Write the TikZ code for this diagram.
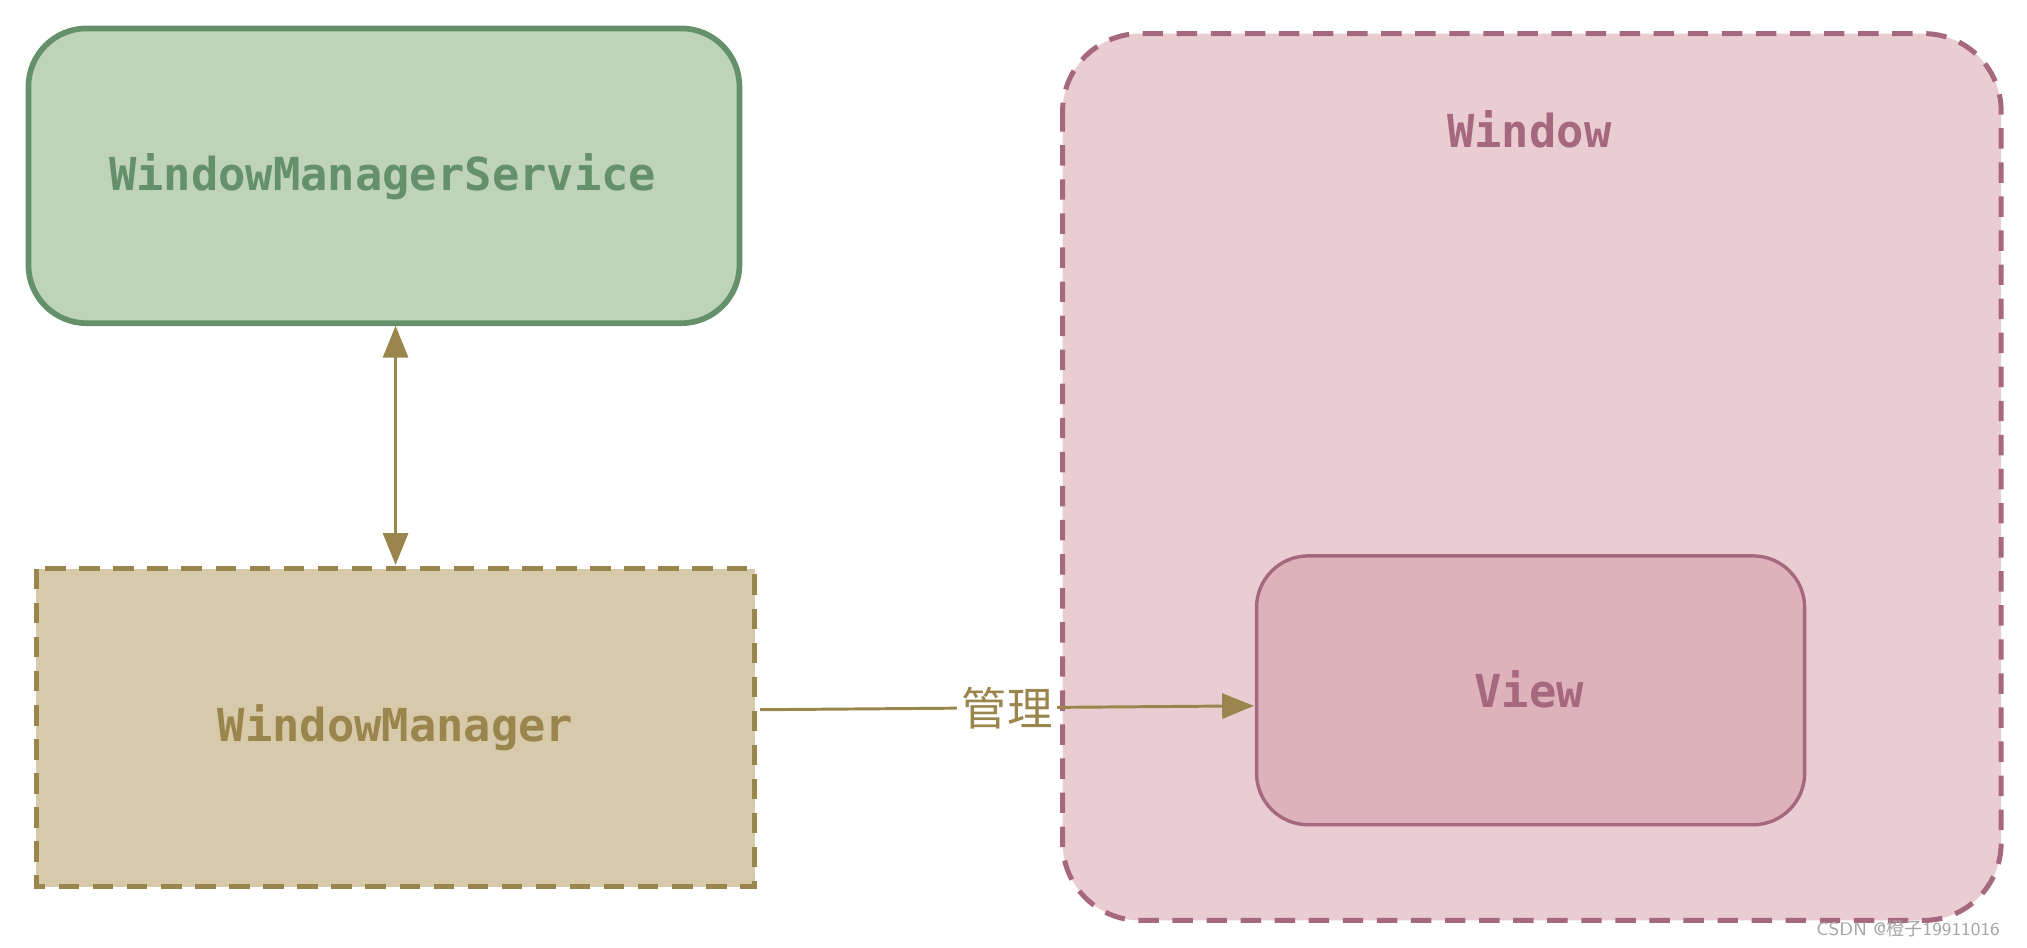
\documentclass[tikz,border=0pt]{standalone}
\usepackage{fontspec}
\setmonofont{DejaVu Sans Mono}
\newfontfamily\cjk{Noto Sans CJK SC}
\usetikzlibrary{arrows.meta}
\definecolor{gfill}{HTML}{BED3B8}\definecolor{gline}{HTML}{64906A}
\definecolor{bfill}{HTML}{D6CAAB}\definecolor{bline}{HTML}{9A864D}
\definecolor{pfill}{HTML}{EACDD3}\definecolor{pline}{HTML}{A6687E}
\definecolor{vfill}{HTML}{DDB2BB}
\tikzset{lbl/.style={font=\ttfamily\bfseries\fontsize{20}{24}\selectfont},
 dash box/.style={line width=2.2pt, dash pattern=on 9pt off 6pt},
 arr/.style={bline, line width=1.3pt, -{Triangle[length=14pt,width=11pt]}}}
\begin{document}
\begin{tikzpicture}[x=0.02cm,y=-0.02cm]
\useasboundingbox (0,0) rectangle (1568,733);
\draw[fill=pfill,draw=pline,dash box,rounded corners=1.2cm] (822,26) rectangle (1548,712);
\node[lbl,text=pline] (win) at (1183,100) {Window};
\draw[fill=gfill,draw=gline,line width=2.5pt,rounded corners=0.9cm] (22,22) rectangle (572,250);
\node[lbl,text=gline] (wms) at (296,137) {WindowManagerService};
\coordinate (wmsS) at (306,252);
\draw[fill=bfill,draw=bline,dash box] (28,440) rectangle (584,686);
\node[lbl,text=bline] (wm) at (306,563) {WindowManager};
\coordinate (wmN) at (306,437);
\coordinate (wmE) at (588,549);
\draw[fill=vfill,draw=pline,line width=1.5pt,rounded corners=0.8cm] (972,430) rectangle (1396,638);
\node[lbl,text=pline] (view) at (1183,533) {View};
\coordinate (viewW) at (970,546);
\draw[arr,{Triangle[length=14pt,width=11pt]}-{Triangle[length=14pt,width=11pt]}] (wmsS) -- (wmN);
\draw[arr] (wmE) -- node[fill=white,inner sep=2pt,text=bline,font=\cjk\fontsize{20}{24}\selectfont] (lab) {管理} (viewW);
\node[text=gray!70,font=\fontsize{8}{10}\selectfont\sffamily] (wmk) at (1476,718) {CSDN @{\cjk 橙子}19911016};
\end{tikzpicture}
\end{document}
